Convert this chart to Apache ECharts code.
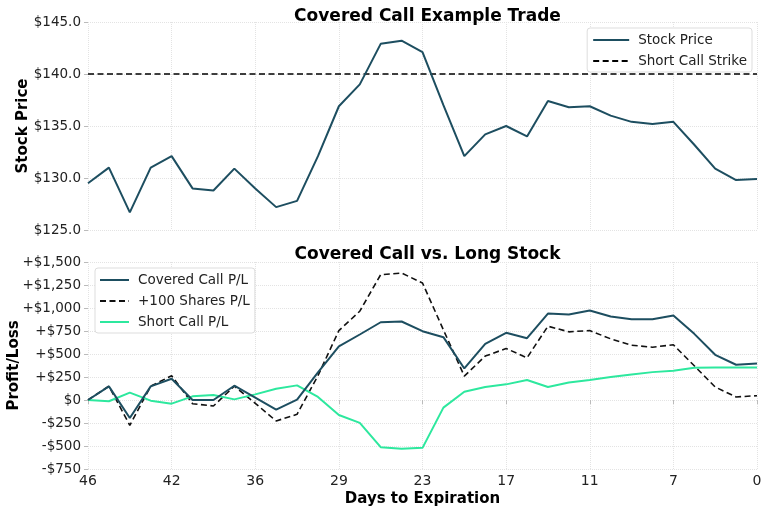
<!DOCTYPE html>
<html>
<head>
<meta charset="utf-8">
<script src="https://cdn.jsdelivr.net/npm/echarts@6/dist/echarts.min.js"></script>
<style>html,body{margin:0;padding:0;background:#fff}#c{width:768px;height:512px}</style>
</head>
<body>
<div id="c"></div>
<script>
const days = ['46','45','44','43','42','39','38','37','36','35','32','31','29','28','25','24','23','22','21','18','17','16','15','14','11','10','9','8','7','4','3','2','0'];
const stockPrice = [129.5,131.0,126.7,131.0,132.1,129.0,128.8,130.9,129.0,127.2,127.8,132.1,136.9,139.0,142.9,143.2,142.1,137.0,132.1,134.2,135.0,134.0,137.4,136.8,136.9,136.0,135.4,135.2,135.4,133.2,130.9,129.8,129.9];
const strikePrice = 140;
const coveredCallPL = [0,148,-195,148,231,0,0,155,25,-105,4,300,582,712,845,853,748,683,343,611,730,672,939,929,972,907,878,878,918,719,491,383,397];
const sharesPL = [0,150,-275,150,264,-40,-65,150,-36,-228,-155,265,755,965,1362,1380,1272,762,260,477,560,459,802,741,755,665,596,574,600,372,141,33,47];
const shortCallPL = [0,-14,80,-7,-40,40,54,7,61,123,159,33,-163,-249,-513,-531,-520,-83,90,141,170,217,141,191,217,249,278,303,318,350,354,354,354];

const FONT = 'DejaVu Sans';
const DARK = '#1d4e60';
const GREEN = '#2de89e';
const strikeLine = days.map(() => strikePrice);

const gridLine = {show: true, lineStyle: {color: '#e3e3e3', type: 'dotted', width: 1}};
const tick = {show: true, length: 4, lineStyle: {color: '#bbb'}};
const legendCommon = {
  orient: 'vertical', itemHeight: 12, itemGap: 7,
  borderColor: '#ddd', borderWidth: 1, borderRadius: 3, backgroundColor: '#fff',
  itemStyle: {opacity: 0, borderWidth: 0}
};

const chart = echarts.init(document.getElementById('c'));
chart.setOption({
  animation: false,
  backgroundColor: '#fff',
  textStyle: {fontFamily: FONT},
  title: [
    {text: 'Covered Call Example Trade', left: 422.5, textAlign: 'center', top: 3,
     textStyle: {fontFamily: FONT, fontWeight: 'bold', fontSize: 17, color: '#000'}},
    {text: 'Covered Call vs. Long Stock', left: 422.5, textAlign: 'center', top: 241,
     textStyle: {fontFamily: FONT, fontWeight: 'bold', fontSize: 17, color: '#000'}}
  ],
  legend: [
    Object.assign({data: ['Stock Price', 'Short Call Strike'], right: 16, top: 28,
      itemWidth: 36, padding: [5, 5, 4, 5],
      textStyle: {fontFamily: FONT, fontSize: 13.5, color: '#222', padding: [0, 0, 0, 4]}}, legendCommon),
    Object.assign({data: ['Covered Call P/L', '+100 Shares P/L', 'Short Call P/L'], left: 95, top: 268,
      itemWidth: 29, padding: [5, 5, 4, 4],
      textStyle: {fontFamily: FONT, fontSize: 13.5, color: '#222', padding: [0, 0, 0, 4]}}, legendCommon)
  ],
  grid: [
    {left: 88, right: 11, top: 22, height: 208, containLabel: false, outerBoundsMode: 'none'},
    {left: 88, right: 11, top: 262, height: 207, containLabel: false, outerBoundsMode: 'none'}
  ],
  xAxis: [
    {type: 'category', gridIndex: 0, data: days, boundaryGap: false,
     axisLine: {show: false}, axisTick: {show: false},
     axisLabel: {show: false, interval: 3},
     splitLine: Object.assign({interval: 3}, gridLine)},
    {type: 'category', gridIndex: 1, data: days, boundaryGap: false,
     axisLine: {show: false}, axisTick: {show: true, interval: 3, length: 4, lineStyle: {color: '#bbb'}},
     axisLabel: {interval: 3, margin: 5, fontFamily: FONT, fontSize: 14, color: '#222'},
     splitLine: Object.assign({interval: 3}, gridLine),
     name: 'Days to Expiration', nameLocation: 'middle', nameGap: 23, nameMoveOverlap: false,
     nameTextStyle: {fontFamily: FONT, fontWeight: 'bold', fontSize: 15, color: '#000'}}
  ],
  yAxis: [
    {type: 'value', gridIndex: 0, min: 125, max: 145, interval: 5,
     axisLine: {show: false}, axisTick: tick, splitLine: gridLine,
     axisLabel: {margin: 7, fontFamily: FONT, fontSize: 13.5, color: '#222', formatter: v => '$' + v.toFixed(1)},
     name: 'Stock Price', nameLocation: 'middle', nameGap: 57, nameRotate: 90, nameMoveOverlap: false,
     nameTextStyle: {fontFamily: FONT, fontWeight: 'bold', fontSize: 15, color: '#000'}},
    {type: 'value', gridIndex: 1, min: -750, max: 1500, interval: 250,
     axisLine: {show: false}, axisTick: tick, splitLine: gridLine,
     axisLabel: {margin: 7, fontFamily: FONT, fontSize: 13.5, color: '#222',
       formatter: v => v === 0 ? '$0' : (v > 0 ? '+$' : '-$') + Math.abs(v).toLocaleString('en-US')},
     name: 'Profit/Loss', nameLocation: 'middle', nameGap: 66, nameRotate: 90, nameMoveOverlap: false,
     nameTextStyle: {fontFamily: FONT, fontWeight: 'bold', fontSize: 15, color: '#000'}}
  ],
  series: [
    {name: 'Stock Price', type: 'line', xAxisIndex: 0, yAxisIndex: 0, data: stockPrice,
     symbol: 'none', lineStyle: {color: DARK, width: 2}, itemStyle: {color: DARK}, z: 3},
    {name: 'Short Call Strike', type: 'line', xAxisIndex: 0, yAxisIndex: 0, data: strikeLine,
     symbol: 'none', lineStyle: {color: '#000', width: 1.6, type: [6, 3.5]}, itemStyle: {color: '#000'}, z: 2},
    {name: 'Covered Call P/L', type: 'line', xAxisIndex: 1, yAxisIndex: 1, data: coveredCallPL,
     symbol: 'none', lineStyle: {color: DARK, width: 2}, itemStyle: {color: DARK}, z: 3},
    {name: '+100 Shares P/L', type: 'line', xAxisIndex: 1, yAxisIndex: 1, data: sharesPL,
     symbol: 'none', lineStyle: {color: '#111', width: 1.6, type: [6, 3.5]}, itemStyle: {color: '#111'}, z: 2},
    {name: 'Short Call P/L', type: 'line', xAxisIndex: 1, yAxisIndex: 1, data: shortCallPL,
     symbol: 'none', lineStyle: {color: GREEN, width: 2}, itemStyle: {color: GREEN}, z: 2}
  ]
});
</script>
</body>
</html>
